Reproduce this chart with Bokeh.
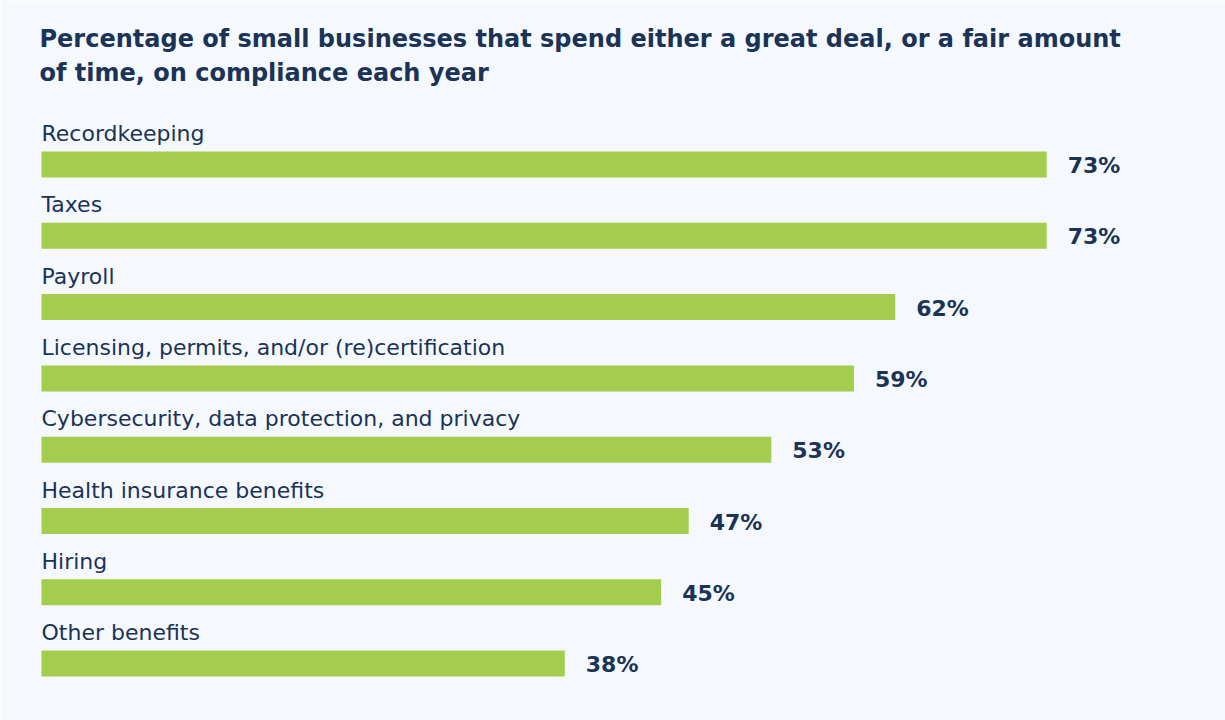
from bokeh.plotting import figure
from bokeh.models import Range1d, ColumnDataSource, Label
from bokeh.core.properties import value
from bokeh.embed import file_html
from bokeh.resources import INLINE

categories = ["Recordkeeping", "Taxes", "Payroll",
              "Licensing, permits, and/or (re)certification",
              "Cybersecurity, data protection, and privacy",
              "Health insurance benefits", "Hiring", "Other benefits"]
values = [73, 73, 62, 59, 53, 47, 45, 38]
value_labels = [f"{v}%" for v in values]

W, H = 1225, 720
px_per_unit = 13.77
x0_px = 41
row0_px = 164
row_px = 71.3

BG = "#f5f9fd"
BAR = "#a4cd4d"
DARK = "#1a3357"
FONT = "DejaVu Sans"

idx = list(range(len(categories)))
src = ColumnDataSource(dict(y=idx, v=values, cat=categories, lab=value_labels,
                            zero=[0]*len(values)))

p = figure(width=W, height=H, output_backend="svg", toolbar_location=None,
           x_range=Range1d(-x0_px/px_per_unit, (W - x0_px)/px_per_unit),
           y_range=Range1d((H - row0_px)/row_px, -row0_px/row_px),
           min_border=0, background_fill_color=BG, border_fill_color=BG,
           outline_line_color=None)
p.axis.visible = False
p.grid.visible = False

p.hbar(y="y", left="zero", right="v", height=26/row_px, source=src,
       fill_color=BAR, line_color=None)

p.text(x="zero", y="y", text="cat", source=src, y_offset=-31,
       text_baseline="middle", text_align="left", text_font=value(FONT),
       text_font_size="22px", text_color=DARK)

p.text(x="v", y="y", text="lab", source=src, x_offset=21, y_offset=1,
       text_baseline="middle", text_align="left", text_font=value(FONT),
       text_font_size="22px", text_font_style="bold", text_color=DARK)

title_lines = ["Percentage of small businesses that spend either a great deal, or a fair amount",
               "of time, on compliance each year"]
for i, t in enumerate(title_lines):
    p.add_layout(Label(x=39, y=H - 38 - 34*i, x_units="screen", y_units="screen",
                       text=t, text_font=FONT, text_font_size="24px",
                       text_font_style="bold", text_color=DARK,
                       text_baseline="middle", text_align="left"))

open("out.html", "w").write(file_html(p, INLINE))
